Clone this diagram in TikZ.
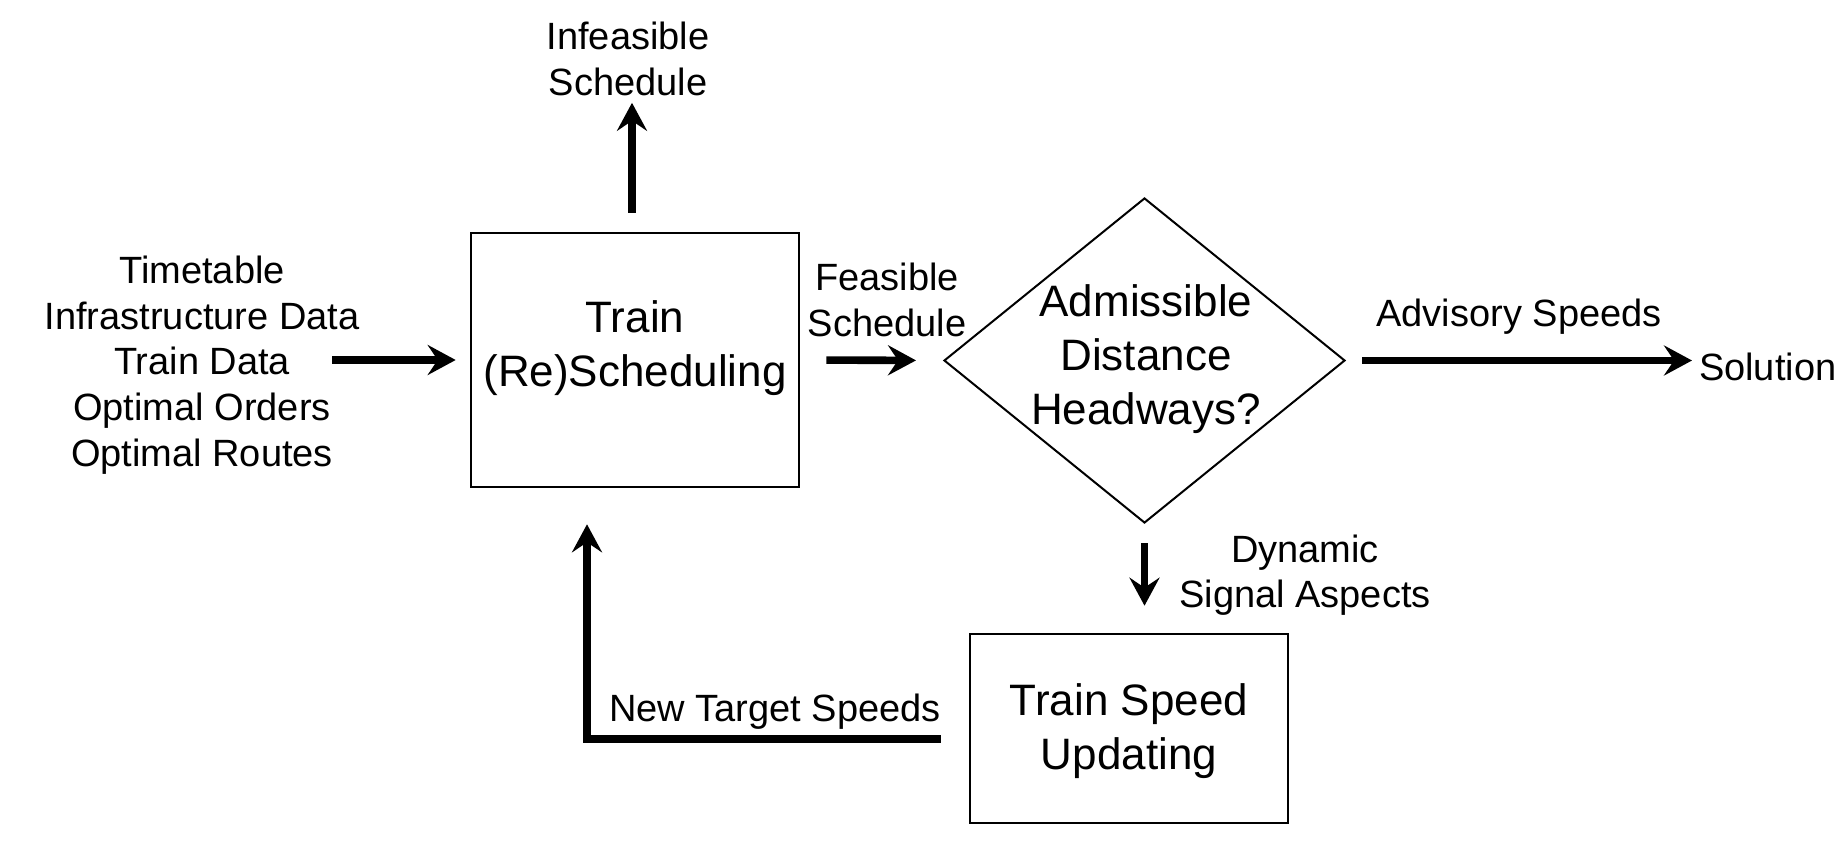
\documentclass[tikz,border=0pt]{standalone}
\usepackage{fontspec}
\setmainfont{Liberation Sans}
\usetikzlibrary{shapes.geometric, arrows.meta}

\tikzset{
  procBox/.style={draw, line width=1.3pt, minimum width=164pt, minimum height=127pt, inner sep=0pt},
  decisionBox/.style={draw, diamond, line width=1pt, minimum width=200.5pt, minimum height=162.5pt, inner sep=0pt},
  bigText/.style={align=center, font=\fontsize{22}{27}\selectfont},
  smallText/.style={align=center, font=\fontsize{19}{22.8}\selectfont},
  flowArrow/.style={line width=3.8pt, -{Stealth[length=14pt, width=15pt, inset=5pt]}},
}

\begin{document}
\begin{tikzpicture}[x=0.5pt, y=-0.5pt]
  \useasboundingbox (0,0) rectangle (1848,850);
  % blocks
  \node[procBox] (sched) at (635,360) {};
  \node[bigText] (schedTxt) at (635,348) {Train\\(Re)Scheduling};
  \node[decisionBox] (adm) at (1144.5,360.5) {};
  \node[bigText] (admTxt) at (1146,359) {Admissible\\Distance\\Headways?};
  \node[procBox, minimum width=159pt, minimum height=94.5pt] (speed) at (1129,728.5) {};
  \node[bigText] (speedTxt) at (1129,731) {Train Speed\\Updating};
  % texts
  \node[smallText] (inputs) at (202,365) {Timetable\\Infrastructure Data\\Train Data\\Optimal Orders\\Optimal Routes};
  \node[smallText] (infeas) at (628,59) {Infeasible\\Schedule};
  \node[smallText] (feas) at (887,300) {Feasible\\Schedule};
  \node[smallText] (advis) at (1519,317) {Advisory Speeds};
  \node[smallText, anchor=west] (sol) at (1692,367) {Solution};
  \node[smallText] (dyn) at (1305,575) {Dynamic\\Signal Aspects};
  \node[smallText] (newSpeed) at (775,712) {New Target Speeds};
  % arrows
  \coordinate (inStart) at (332,360);
  \draw[flowArrow, shorten >=7pt] (inStart) -- (sched.west);
  \draw[flowArrow, shorten <=13pt, shorten >=13.5pt] (sched.east) -- (adm.west);
  \draw[flowArrow, shorten <=9.5pt] ([xshift=-1.5pt]sched.north) -- ([xshift=-1.5pt]sched.north |- infeas.south);
  \draw[flowArrow, shorten <=8pt] (adm.east) -- (sol.west |- adm.east);
  \draw[flowArrow, shorten <=9.5pt, shorten >=13.5pt] (adm.south) -- (adm.south |- speed.north);
  \draw[flowArrow, shorten >=18pt] ([shift={(-14pt,-5.25pt)}]speed.west) -| ([xshift=-24pt]sched.south);
\end{tikzpicture}
\end{document}
